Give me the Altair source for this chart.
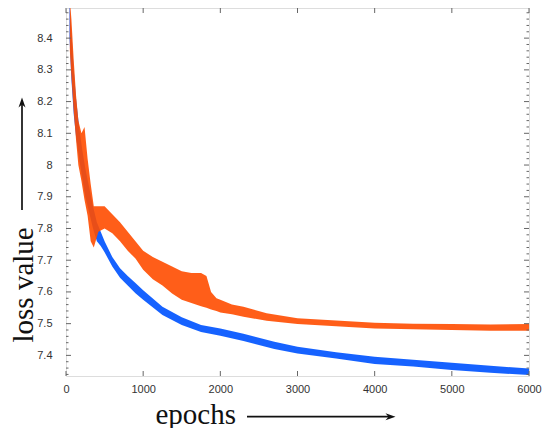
import altair as alt
import pandas as pd

# ---- data (noise envelope per series) ----
orange_epoch = [50, 70, 100, 130, 160, 200, 240, 280, 320, 360, 420, 500, 600, 700, 800, 900,
                1000, 1125, 1250, 1375, 1500, 1625, 1750, 1820, 1880, 1950, 2000, 2150, 2300,
                2600, 3000, 3500, 4000, 4500, 5000, 5500, 6000]
orange_lo = [8.36, 8.28, 8.17, 8.08, 8.00, 7.95, 7.89, 7.84, 7.76, 7.74, 7.79, 7.80, 7.785, 7.76,
             7.73, 7.705, 7.67, 7.64, 7.62, 7.595, 7.575, 7.565, 7.555, 7.55, 7.545, 7.54, 7.535,
             7.53, 7.522, 7.509, 7.499, 7.492, 7.485, 7.482, 7.480, 7.478, 7.478]
orange_hi = [8.52, 8.46, 8.33, 8.22, 8.14, 8.10, 8.12, 8.02, 7.94, 7.87, 7.87, 7.87, 7.845, 7.82,
             7.79, 7.76, 7.73, 7.71, 7.695, 7.68, 7.665, 7.66, 7.66, 7.65, 7.60, 7.58, 7.575,
             7.56, 7.553, 7.533, 7.517, 7.510, 7.503, 7.500, 7.499, 7.497, 7.499]

blue_epoch = [45, 70, 100, 130, 170, 210, 250, 300, 350, 400, 450, 500, 600, 700, 800, 900, 1000,
              1250, 1500, 1750, 2000, 2300, 2700, 3000, 3500, 4000, 4500, 5000, 5500, 6000]
blue_lo = [8.40, 8.27, 8.16, 8.09, 8.02, 7.96, 7.90, 7.85, 7.80, 7.76, 7.745, 7.725, 7.68, 7.645,
           7.62, 7.596, 7.575, 7.527, 7.496, 7.474, 7.462, 7.445, 7.420, 7.406, 7.390, 7.373,
           7.365, 7.354, 7.345, 7.338]
blue_hi = [8.52, 8.42, 8.30, 8.21, 8.12, 8.05, 7.99, 7.93, 7.87, 7.82, 7.79, 7.76, 7.71, 7.675,
           7.65, 7.628, 7.605, 7.553, 7.520, 7.496, 7.485, 7.468, 7.443, 7.427, 7.410, 7.396,
           7.386, 7.377, 7.367, 7.359]

x_ticks = [0, 1000, 2000, 3000, 4000, 5000, 6000]
y_ticks = [7.4, 7.5, 7.6, 7.7, 7.8, 7.9, 8.0, 8.1, 8.2, 8.3, 8.4]
y_minor = [7.34, 7.36, 7.38, 7.42, 7.44, 7.46, 7.48, 7.52, 7.54, 7.56, 7.58, 7.62, 7.64, 7.66,
           7.68, 7.72, 7.74, 7.76, 7.78, 7.82, 7.84, 7.86, 7.88, 7.92, 7.94, 7.96, 7.98, 8.02,
           8.04, 8.06, 8.08, 8.12, 8.14, 8.16, 8.18, 8.22, 8.24, 8.26, 8.28, 8.32, 8.34, 8.36,
           8.38, 8.42, 8.44, 8.46, 8.48]

W, H = 463, 368
SERIF = "Liberation Serif"
SANS = "Liberation Sans"
FRAME = "#666666"

orange = pd.DataFrame({"epoch": orange_epoch, "lo": orange_lo, "hi": orange_hi})
blue = pd.DataFrame({"epoch": blue_epoch, "lo": blue_lo, "hi": blue_hi})
xt = pd.DataFrame({"epoch": x_ticks})
yt = pd.DataFrame({"lo": y_ticks})
ym = pd.DataFrame({"lo": y_minor})
one = pd.DataFrame({"k": [0]})

xscale = alt.Scale(domain=[0, 6000], nice=False, zero=False)
yscale = alt.Scale(domain=[7.335, 8.495], nice=False, zero=False)

x_axis = alt.Axis(values=x_ticks, format="d", ticks=False, tickSize=0, domain=False, grid=False,
                  labelFont=SANS, labelFontSize=11, labelColor="#333333", labelPadding=7,
                  labelFlush=False, title="epochs", titleFont=SERIF, titleFontSize=29,
                  titleFontWeight="normal", titleColor="#111111", titleAlign="left",
                  titleBaseline="alphabetic", titleX=89, titleY=47)
y_axis = alt.Axis(values=y_ticks, format=".2~f", ticks=False, tickSize=0, domain=False, grid=False,
                  labelFont=SANS, labelFontSize=11, labelColor="#333333", labelPadding=14,
                  labelOverlap=False, title="loss value", titleFont=SERIF, titleFontSize=29,
                  titleFontWeight="normal", titleColor="#111111", titleAngle=270,
                  titleAlign="left", titleBaseline="alphabetic", titleX=-34, titleY=334)


def X(field="epoch"):
    return alt.X(f"{field}:Q", scale=xscale, axis=x_axis)


def Y(field="lo"):
    return alt.Y(f"{field}:Q", scale=yscale, axis=y_axis)


blue_band = alt.Chart(blue).mark_area(color="#0A5AFF", opacity=0.95, clip=True).encode(
    x=X(), y=Y("hi"), y2="lo:Q")
orange_band = alt.Chart(orange).mark_area(color="#FF4D00", opacity=0.9, clip=True).encode(
    x=X(), y=Y("hi"), y2="lo:Q")

tick_style = dict(color=FRAME, strokeWidth=1)
bottom_ticks = alt.Chart(xt).mark_rule(**tick_style).encode(
    x=X(), y=alt.value(H), y2=alt.value(H - 5))
top_ticks = alt.Chart(xt).mark_rule(**tick_style).encode(
    x=X(), y=alt.value(0), y2=alt.value(5))
left_ticks = alt.Chart(yt).mark_rule(**tick_style).encode(
    y=Y(), x=alt.value(0), x2=alt.value(5))
right_ticks = alt.Chart(yt).mark_rule(**tick_style).encode(
    y=Y(), x=alt.value(W), x2=alt.value(W - 5))
left_minor = alt.Chart(ym).mark_rule(**tick_style).encode(
    y=Y(), x=alt.value(0), x2=alt.value(2.5))
right_minor = alt.Chart(ym).mark_rule(**tick_style).encode(
    y=Y(), x=alt.value(W), x2=alt.value(W - 2.5))

# decorative arrows next to the axis titles
arrow_col = "#111111"
x_arrow = alt.Chart(one).mark_rule(color=arrow_col, strokeWidth=1.7).encode(
    x=alt.value(181), x2=alt.value(324), y=alt.value(408.7))
x_head = alt.Chart(one).mark_point(
    shape="M1,0 L-1,-0.7 L-0.4,0 L-1,0.7 Z", filled=True, color=arrow_col, opacity=1,
    size=100, strokeWidth=0).encode(x=alt.value(324.5), y=alt.value(408.7))
y_arrow = alt.Chart(one).mark_rule(color=arrow_col, strokeWidth=1.7).encode(
    x=alt.value(-44), y=alt.value(202), y2=alt.value(95))
y_head = alt.Chart(one).mark_point(
    shape="M0,-1 L-0.7,1 L0,0.4 L0.7,1 Z", filled=True, color=arrow_col, opacity=1,
    size=100, strokeWidth=0).encode(x=alt.value(-44), y=alt.value(94.5))

chart = alt.layer(
    blue_band, orange_band,
    bottom_ticks, top_ticks, left_ticks, right_ticks, left_minor, right_minor,
    x_arrow, x_head, y_arrow, y_head,
).properties(
    width=W, height=H,
    autosize=alt.AutoSizeParams(type="none"),
    padding={"left": 58, "top": 0, "right": 13, "bottom": 52},
).configure_view(
    stroke=FRAME, strokeWidth=1
).configure(background="white")

chart.save("out.html", embed_options={"renderer": "svg", "actions": False})
